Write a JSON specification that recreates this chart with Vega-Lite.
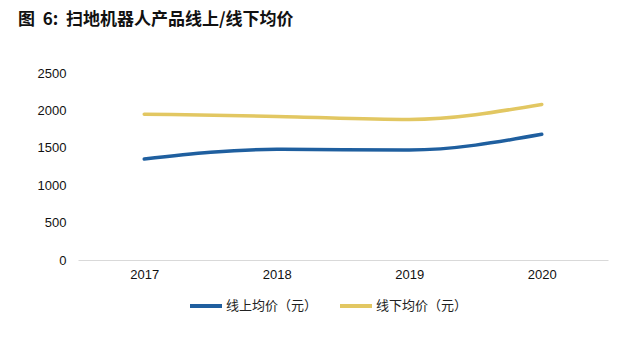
{
  "$schema": "https://vega.github.io/schema/vega-lite/v6.json",
  "width": 530,
  "height": 187,
  "autosize": {"type": "none"},
  "padding": {"left": 78, "top": 73, "right": 32, "bottom": 86},
  "background": "white",
  "title": {
    "text": "图\u00a0\u00a06:\u00a0\u00a0扫地机器人产品线上/线下均价",
    "anchor": "start",
    "frame": "group",
    "dx": -60,
    "offset": 38,
    "font": "Noto Sans CJK SC",
    "fontSize": 17,
    "fontWeight": "bold",
    "color": "#111111"
  },
  "data": {
    "values": [
      {"year": "2017", "series": "线上均价（元）", "price": 1350},
      {"year": "2018", "series": "线上均价（元）", "price": 1480},
      {"year": "2019", "series": "线上均价（元）", "price": 1470},
      {"year": "2020", "series": "线上均价（元）", "price": 1680},
      {"year": "2017", "series": "线下均价（元）", "price": 1950},
      {"year": "2018", "series": "线下均价（元）", "price": 1920},
      {"year": "2019", "series": "线下均价（元）", "price": 1880},
      {"year": "2020", "series": "线下均价（元）", "price": 2080}
    ]
  },
  "mark": {"type": "line", "interpolate": "monotone", "strokeWidth": 3.5, "strokeCap": "round"},
  "encoding": {
    "x": {
      "field": "year",
      "type": "ordinal",
      "scale": {"type": "point", "padding": 0.5},
      "axis": {
        "title": null,
        "ticks": false,
        "domainColor": "#d9d9d9",
        "domainWidth": 1,
        "labelAngle": 0,
        "labelPadding": 8,
        "labelFont": "Liberation Sans",
        "labelFontSize": 13,
        "labelColor": "#111111",
        "grid": false
      }
    },
    "y": {
      "field": "price",
      "type": "quantitative",
      "scale": {"domain": [0, 2500]},
      "axis": {
        "title": null,
        "values": [0, 500, 1000, 1500, 2000, 2500],
        "format": "d",
        "domain": false,
        "ticks": false,
        "grid": false,
        "labelPadding": 12,
        "labelFont": "Liberation Sans",
        "labelFontSize": 13,
        "labelColor": "#111111"
      }
    },
    "color": {
      "field": "series",
      "type": "nominal",
      "scale": {
        "domain": ["线上均价（元）", "线下均价（元）"],
        "range": ["#1f5f9f", "#e2c762"]
      },
      "legend": {
        "title": null,
        "orient": "none",
        "direction": "horizontal",
        "legendX": 110,
        "legendY": 215,
        "symbolType": "stroke",
        "symbolStrokeWidth": 4,
        "symbolSize": 1024,
        "labelFont": "Noto Sans CJK SC",
        "labelFontSize": 13,
        "labelColor": "#222222",
        "labelOffset": 2,
        "columnPadding": 14
      }
    }
  },
  "config": {"view": {"stroke": null}}
}
